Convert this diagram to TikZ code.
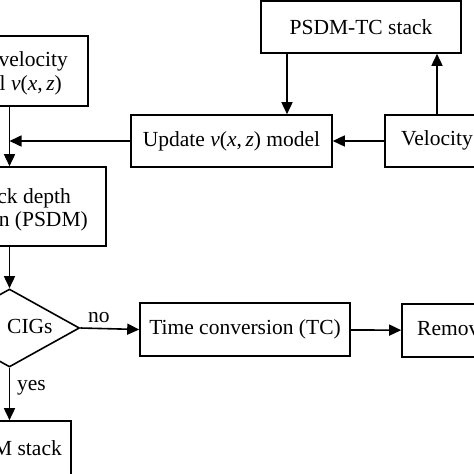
\documentclass[tikz,border=0pt]{standalone}
\usepackage{fontspec}
\setmainfont{Liberation Serif}
\usepackage{tikz}
\usetikzlibrary{shapes.geometric,arrows.meta}

\tikzset{
  stepbox/.style={draw=black, line width=1.6pt, rectangle, inner sep=0pt},
  label/.style={font=\fontsize{21.5}{25}\selectfont, inner sep=0pt},
  flow/.style={line width=1.6pt, -{Triangle[length=12pt,width=11pt]}}
}
\newcommand{\vxz}{\textit{v}(\textit{x},\,\textit{z})}

\begin{document}
\begin{tikzpicture}[x=1pt, y=-1pt]
\useasboundingbox (0,0) rectangle (474,474);
\clip (0,0) rectangle (474,474);

% left column
\node[stepbox, minimum width=157pt, minimum height=70pt] (init) at (9.5,71) {};
\node[label, anchor=base east] (initA) at (68,66) {velocity};
\node[label, anchor=base east] (initB) at (62,90) {l \vxz};

\node[stepbox, minimum width=193pt, minimum height=79pt] (psdm) at (9.5,206.5) {};
\node[label, anchor=base east] (psdmA) at (71,203) {ck depth};
\node[label, anchor=base east] (psdmB) at (88,226) {n (PSDM)};

\node[draw=black, line width=1.6pt, diamond, inner sep=0pt, minimum width=140pt, minimum height=78pt] (cigs) at (9.5,328) {};
\node[label, anchor=base west] (cigsA) at (7,333) {CIGs};

\node[stepbox, minimum width=123pt, minimum height=70pt] (final) at (9.5,456) {};
\node[label, anchor=base east] (finalA) at (62,455) {M stack};

% upper loop
\node[stepbox, minimum width=200pt, minimum height=52pt, label] (tcstack) at (361,27) {PSDM-TC stack};
\node[stepbox, minimum width=201pt, minimum height=52pt, label] (update) at (231.5,141) {Update \vxz\ model};
\node[stepbox, minimum width=160pt, minimum height=52pt] (velo) at (465,141) {};
\node[label, anchor=base west] (veloA) at (401,145) {Velocity};

% lower row
\node[stepbox, minimum width=210pt, minimum height=53pt, label] (tc) at (245,329.5) {Time conversion (TC)};
\node[stepbox, minimum width=160pt, minimum height=53pt] (remove) at (482,330.5) {};
\node[label, anchor=base west] (removeA) at (417,335) {Remov};

\coordinate (downx) at (287,0);
\coordinate (upx) at (437,0);

\draw[flow] (init) -- (psdm);
\draw[flow] (update.west) -- (update.west -| init.south);
\draw[flow] (psdm) -- (cigs);
\draw[flow] (cigs.east) -- (tc.west);
\node[label, anchor=base west] (no) at (88,322) {no};
\draw[flow] (tc) -- (remove);
\draw[flow] (cigs.south) -- (final.north);
\node[label, anchor=base west] (yes) at (17,390) {yes};

\draw[flow] (tcstack.south -| downx) -- (update.north -| downx);
\draw[flow] (velo.north -| upx) -- (tcstack.south -| upx);
\draw[flow] (velo.west) -- (update.east);

\end{tikzpicture}
\end{document}
